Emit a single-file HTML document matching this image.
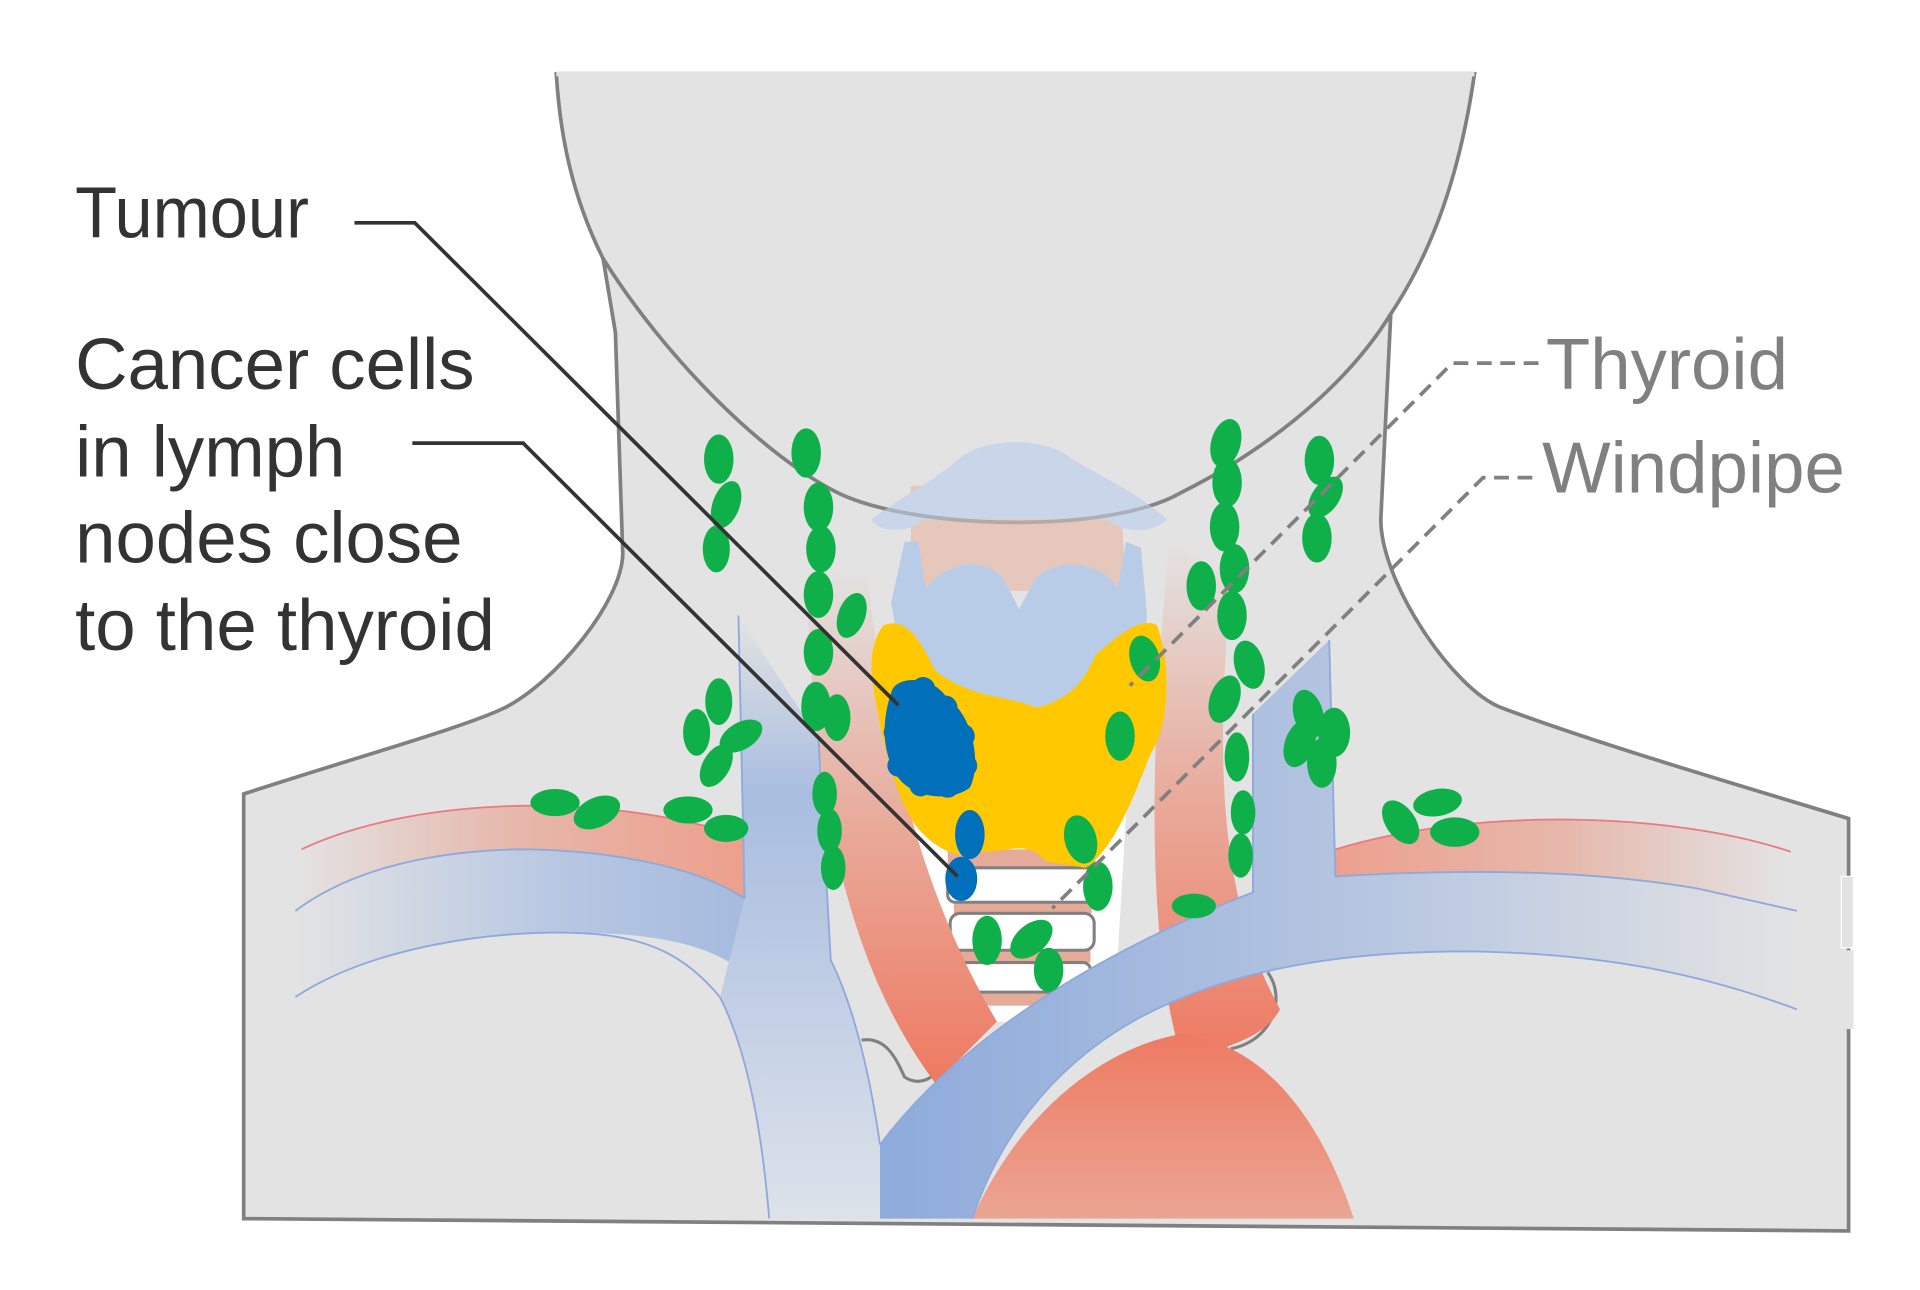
<!DOCTYPE html>
<html><head><meta charset="utf-8"><style>
html,body{margin:0;padding:0;background:#fff;width:1920px;height:1290px;overflow:hidden}
svg{display:block}
</style></head><body>
<svg width="1920" height="1290" viewBox="0 0 1560 1048" preserveAspectRatio="none" xmlns="http://www.w3.org/2000/svg">
<defs>
<linearGradient id="vV" x1="0" y1="0" x2="0" y2="1"><stop offset="0" stop-color="#e3e3e3"/><stop offset="0.3" stop-color="#a8bde0"/><stop offset="1" stop-color="#dde2ea"/></linearGradient>
<linearGradient id="veinH" x1="240" y1="0" x2="600" y2="0" gradientUnits="userSpaceOnUse"><stop offset="0" stop-color="#e3e3e3"/><stop offset="0.6" stop-color="#b7c7e2"/><stop offset="1" stop-color="#a6bbdf"/></linearGradient>
<linearGradient id="veinHR" x1="1460" y1="0" x2="720" y2="0" gradientUnits="userSpaceOnUse"><stop offset="0" stop-color="#e3e3e3"/><stop offset="0.45" stop-color="#b8c7e1"/><stop offset="1" stop-color="#8eabdb"/></linearGradient>
<linearGradient id="art" x1="0" y1="0" x2="0" y2="1"><stop offset="0" stop-color="#e3e3e3"/><stop offset="0.5" stop-color="#e9aa9a"/><stop offset="1" stop-color="#ee7a62"/></linearGradient>
<linearGradient id="artB" x1="0" y1="0" x2="0" y2="1"><stop offset="0" stop-color="#ee7a62"/><stop offset="1" stop-color="#eba593"/></linearGradient>
<linearGradient id="artH" x1="240" y1="0" x2="600" y2="0" gradientUnits="userSpaceOnUse"><stop offset="0" stop-color="#e3e3e3"/><stop offset="0.5" stop-color="#e6b7aa"/><stop offset="1" stop-color="#eda08e"/></linearGradient>
<linearGradient id="artHR" x1="1450" y1="0" x2="1085" y2="0" gradientUnits="userSpaceOnUse"><stop offset="0" stop-color="#e3e3e3"/><stop offset="0.5" stop-color="#e6b7aa"/><stop offset="1" stop-color="#eda08e"/></linearGradient>
</defs>
<!-- body -->
<path d="M452,60 L1198,60 C1185,150 1160,210 1130,255 L1122,420 C1120,470 1180,560 1220,575 C1300,605 1420,640 1502,665 L1502,1000 L198,990 L198,645 C290,615 380,590 410,575 C450,555 505,490 506,450 L500,270 L490,210 C465,160 455,110 452,60 Z" fill="#e3e3e3" stroke="#808080" stroke-width="3"/>
<path d="M452,60 L1198,60" stroke="#e3e3e3" stroke-width="4"/>
<rect x="1496" y="712" width="10" height="58" fill="#e3e3e3" stroke="#fff" stroke-width="1"/>
<rect x="1496" y="772" width="10" height="64" fill="#e3e3e3"/>
<!-- chin -->
<path d="M490,210 C540,290 620,370 680,400 C740,430 900,435 960,400 C1020,370 1090,320 1130,255" fill="none" stroke="#808080" stroke-width="3"/>
<!-- larynx -->
<path d="M740,395 C790,392 860,392 910,395 L915,480 L740,480 Z" fill="#e6c7bb"/>
<path d="M708,422 C730,405 760,390 780,372 C800,355 850,355 870,372 C890,385 925,400 948,422 C935,435 910,432 900,422 L750,422 C738,434 712,432 708,422Z" fill="#c9d6ea"/>
<path d="M735,440 L746,440 L752,478 C770,455 805,450 818,475 L828,495 L840,472 C855,452 895,455 908,478 L915,440 L927,445 L932,500 L922,575 L740,575 L724,490 Z" fill="#b8cce8"/>
<!-- trachea -->
<path d="M740,660 L915,660 L905,830 L760,830 Z" fill="#fff"/>
<g fill="#e5aa98"><rect x="770" y="690" width="120" height="15"/><rect x="775" y="730" width="112" height="12"/><rect x="778" y="770" width="108" height="12"/><rect x="782" y="805" width="100" height="12"/></g>
<g fill="#fff" stroke="#808080" stroke-width="2.5"><rect x="770" y="705" width="120" height="28" rx="6"/><rect x="772" y="742" width="117" height="30" rx="8"/><rect x="776" y="782" width="110" height="24" rx="6"/></g>
<g fill="none" stroke="#808080" stroke-width="2.5">
<path d="M980,650 C995,660 990,690 975,695"/>
<path d="M975,712 C1000,705 1010,725 995,740"/>
<path d="M1030,790 C1045,810 1035,845 1000,852"/>
<path d="M700,845 C720,842 728,860 735,875 C742,880 752,880 760,872"/>
</g>
<path d="M680,400 C740,430 900,435 960,400" fill="none" stroke="#8a8a8a" stroke-opacity="0.5" stroke-width="3"/>
<!-- arteries -->
<path d="M245,690 C330,650 480,640 605,680 L605,740 C480,700 330,710 245,740Z" fill="url(#artH)"/>
<path d="M1455,692 C1360,660 1200,655 1085,690 L1085,740 C1200,720 1360,720 1455,740Z" fill="url(#artHR)"/>
<path d="M245,690 C330,650 480,640 605,680" fill="none" stroke="#e97b83" stroke-width="1.5"/>
<path d="M1455,692 C1360,660 1200,655 1085,690" fill="none" stroke="#e97b83" stroke-width="1.5"/>
<path d="M655,460 L705,470 C720,600 745,720 810,830 L760,880 C700,800 660,680 655,460Z" fill="url(#art)"/>
<path d="M950,440 L1000,470 C990,600 985,720 1040,820 C1030,840 1000,852 960,860 C930,760 935,600 950,440Z" fill="url(#art)"/>
<path d="M790,990 C830,900 900,850 960,840 C1040,850 1080,930 1100,990 Z" fill="url(#artB)"/>
<!-- veins -->
<path d="M240,740 C280,710 340,692 420,690 C480,690 560,700 605,730 L605,790 C580,770 540,758 470,758 C400,755 300,770 240,810 Z" fill="url(#veinH)"/>
<path d="M240,740 C280,710 340,692 420,690 C480,690 560,700 605,730" fill="none" stroke="#8fa9dc" stroke-width="1.5"/>
<path d="M240,810 C300,770 400,755 470,758 C530,760 560,780 585,810" fill="none" stroke="#8fa9dc" stroke-width="1.5"/>
<path d="M600,500 L605,730 L585,810 C610,860 620,930 625,990 L715,990 L715,930 C705,860 690,810 675,780 L665,600 Z" fill="url(#vV)"/>
<path d="M600,500 L605,730 M585,810 C610,860 620,930 625,990 M715,930 C705,860 690,810 675,780 L665,600" fill="none" stroke="#8fa9dc" stroke-width="1.5"/>
<path d="M1018,580 L1080,520 L1085,712 C1200,705 1300,708 1380,722 L1460,740 L1460,820 C1380,790 1300,775 1200,773 C1100,772 1000,785 920,830 C850,870 810,930 790,990 L715,990 L715,930 C760,870 850,790 1018,725 Z" fill="url(#veinHR)"/>
<path d="M1018,580 L1018,725 C850,790 760,870 715,930 M1080,520 L1085,712 C1200,705 1300,708 1380,722 L1460,740 M1460,820 C1380,790 1300,775 1200,773 C1100,772 1000,785 920,830 C850,870 810,930 790,990" fill="none" stroke="#8fa9dc" stroke-width="1.5"/>
<!-- thyroid -->
<path d="M718,508 C738,500 750,525 760,545 C790,568 820,565 842,575 C870,568 882,552 890,532 C905,520 925,500 940,508 C952,540 950,590 935,612 C920,650 905,690 882,705 L850,700 C835,682 820,692 800,692 C780,700 760,690 745,672 C728,650 716,600 710,560 C706,540 708,520 718,508Z" fill="#ffc800"/>
<!-- tumour -->
<g fill="#0070bb">
<path d="M725,560 C732,548 760,550 770,568 C790,580 798,620 788,640 C772,652 742,648 730,632 C716,612 716,585 725,560Z"/>
<circle cx="735" cy="565" r="10"/><circle cx="750" cy="560" r="10"/><circle cx="768" cy="575" r="10"/><circle cx="782" cy="598" r="10"/><circle cx="785" cy="622" r="9"/><circle cx="770" cy="638" r="10"/><circle cx="748" cy="638" r="9"/><circle cx="730" cy="622" r="9"/><circle cx="726" cy="595" r="8"/>
</g>
<ellipse cx="788" cy="678" rx="12" ry="20" fill="#0070bb"/>
<ellipse cx="781" cy="714" rx="13" ry="18" fill="#0070bb"/>
<!-- lymph nodes -->
<g fill="#0fb04a">
<ellipse cx="584" cy="373" rx="12" ry="20"/><ellipse cx="590" cy="410" rx="11" ry="20" transform="rotate(20 590 410)"/><ellipse cx="582" cy="446" rx="11" ry="19"/>
<ellipse cx="655" cy="368" rx="12" ry="20"/><ellipse cx="665" cy="412" rx="12" ry="20"/><ellipse cx="667" cy="446" rx="12" ry="19"/><ellipse cx="665" cy="483" rx="12" ry="19"/><ellipse cx="692" cy="500" rx="11" ry="19" transform="rotate(20 692 500)"/><ellipse cx="665" cy="530" rx="12" ry="19"/><ellipse cx="663" cy="574" rx="12" ry="20"/><ellipse cx="680" cy="583" rx="11" ry="19"/>
<ellipse cx="584" cy="570" rx="11" ry="19"/><ellipse cx="566" cy="595" rx="11" ry="19"/><ellipse cx="602" cy="598" rx="11" ry="19" transform="rotate(60 602 598)"/><ellipse cx="582" cy="622" rx="11" ry="19" transform="rotate(30 582 622)"/>
<ellipse cx="451" cy="652" rx="20" ry="11"/><ellipse cx="485" cy="660" rx="20" ry="12" transform="rotate(-25 485 660)"/><ellipse cx="559" cy="658" rx="20" ry="11"/><ellipse cx="590" cy="673" rx="18" ry="11"/>
<ellipse cx="670" cy="645" rx="10" ry="18"/><ellipse cx="674" cy="675" rx="10" ry="18"/><ellipse cx="677" cy="705" rx="10" ry="18"/>
<ellipse cx="996" cy="360" rx="12" ry="20" transform="rotate(15 996 360)"/><ellipse cx="997" cy="392" rx="12" ry="20"/><ellipse cx="995" cy="428" rx="12" ry="20"/><ellipse cx="1003" cy="462" rx="12" ry="20"/><ellipse cx="976" cy="476" rx="12" ry="20"/><ellipse cx="1001" cy="500" rx="12" ry="20"/><ellipse cx="1015" cy="540" rx="12" ry="20" transform="rotate(-15 1015 540)"/><ellipse cx="995" cy="568" rx="12" ry="20" transform="rotate(20 995 568)"/><ellipse cx="1005" cy="615" rx="10" ry="20"/><ellipse cx="1010" cy="660" rx="10" ry="18"/><ellipse cx="1008" cy="695" rx="10" ry="18"/>
<ellipse cx="1072" cy="374" rx="12" ry="20"/><ellipse cx="1077" cy="404" rx="11" ry="19" transform="rotate(35 1077 404)"/><ellipse cx="1070" cy="437" rx="12" ry="20"/>
<ellipse cx="1063" cy="580" rx="12" ry="20" transform="rotate(-15 1063 580)"/><ellipse cx="1084" cy="595" rx="13" ry="20"/><ellipse cx="1056" cy="604" rx="12" ry="20" transform="rotate(20 1056 604)"/><ellipse cx="1074" cy="620" rx="12" ry="20"/>
<ellipse cx="1138" cy="668" rx="12" ry="20" transform="rotate(-35 1138 668)"/><ellipse cx="1168" cy="652" rx="20" ry="11" transform="rotate(-10 1168 652)"/><ellipse cx="1182" cy="676" rx="20" ry="12"/>
<ellipse cx="930" cy="535" rx="12" ry="19" transform="rotate(-15 930 535)"/><ellipse cx="910" cy="598" rx="12" ry="20"/><ellipse cx="878" cy="682" rx="13" ry="20" transform="rotate(-15 878 682)"/><ellipse cx="892" cy="720" rx="12" ry="20"/>
<ellipse cx="802" cy="764" rx="12" ry="20"/><ellipse cx="838" cy="763" rx="20" ry="12" transform="rotate(-40 838 763)"/><ellipse cx="852" cy="788" rx="12" ry="18"/><ellipse cx="970" cy="736" rx="18" ry="10"/>
</g>
<!-- leader lines -->
<g stroke="#333" stroke-width="3" fill="none">
<polyline points="288,181 337,181 730,573"/>
<polyline points="335,360 425,360 778,712"/>
</g>
<g stroke="#808080" stroke-width="3" fill="none" stroke-dasharray="12,7">
<polyline points="1250,295 1180,295 918,557"/>
<polyline points="1245,388 1205,388 855,738"/>
</g>
<!-- labels -->
<g font-family="Liberation Sans, sans-serif" font-size="59">
<text x="61" y="193" fill="#333" textLength="190" lengthAdjust="spacingAndGlyphs">Tumour</text>
<text x="61" y="316" fill="#333">Cancer cells</text>
<text x="61" y="387" fill="#333">in lymph</text>
<text x="61" y="457" fill="#333">nodes close</text>
<text x="61" y="528" fill="#333">to the thyroid</text>
</g>
<g font-family="Liberation Sans, sans-serif" font-size="59" fill="#808080">
<text x="1256" y="316">Thyroid</text>
<text x="1253" y="400">Windpipe</text>
</g>
</svg>
</body></html>
